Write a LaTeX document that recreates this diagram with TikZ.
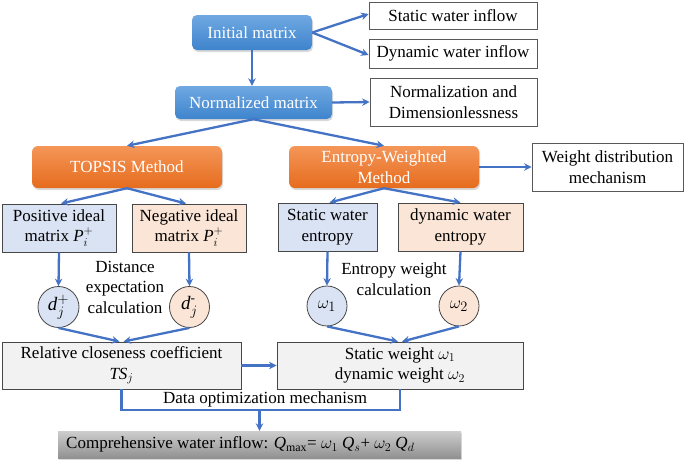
\documentclass[tikz,border=0pt]{standalone}
\usepackage{amsmath}
\usepackage{fontspec}
\setmainfont{Liberation Serif}
\usetikzlibrary{shadows,arrows.meta,shapes.geometric}
\definecolor{arr}{RGB}{68,114,196}
\definecolor{bluetop}{RGB}{112,168,226}
\definecolor{bluebot}{RGB}{62,132,204}
\definecolor{orgtop}{RGB}{244,150,88}
\definecolor{orgbot}{RGB}{230,108,30}
\definecolor{lblue}{RGB}{218,227,243}
\definecolor{lorange}{RGB}{251,229,214}
\definecolor{lgray}{RGB}{242,242,242}
\definecolor{bord}{RGB}{89,89,89}
\definecolor{comptop}{RGB}{205,205,205}
\definecolor{compbot}{RGB}{145,145,145}
\tikzset{
  base/.style={font=\fontsize{17}{20.5}\selectfont, align=center, inner sep=0pt},
  shade/.style={drop shadow={opacity=0.3, shadow xshift=1pt, shadow yshift=-2pt}},
  bluebox/.style={base, rounded corners=5pt, top color=bluetop, bottom color=bluebot, text=white, shade},
  orgbox/.style={base, rounded corners=6pt, top color=orgtop, bottom color=orgbot, text=white, shade},
  whitebox/.style={base, draw=bord, line width=0.8pt, fill=white},
  lbluebox/.style={base, draw=bord!80!black, line width=0.9pt, fill=lblue},
  lorgbox/.style={base, draw=bord!80!black, line width=0.9pt, fill=lorange},
  circbase/.style={base, font=\fontsize{19}{22}\selectfont, ellipse, line width=0.8pt, draw=bord!80!black},
  lbluecirc/.style={circbase, fill=lblue},
  lorgcirc/.style={circbase, fill=lorange},
  graybox/.style={base, draw=bord!80!black, line width=0.9pt, fill=lgray},
  lbl/.style={base},
  conn/.style={draw=arr, line width=2.3pt, -{Stealth[length=7.5pt,width=7.5pt]}},
  plain/.style={draw=arr, line width=2.3pt},
}
\begin{document}
\begin{tikzpicture}[x=1pt,y=-1pt]
\useasboundingbox (0,0) rectangle (685,464);
% top row
\node[bluebox, minimum width=120, minimum height=35] (init) at (252,32.5) {Initial matrix};
\node[whitebox, minimum width=168, minimum height=27] (sin) at (453,15.5) {Static water inflow};
\node[whitebox, minimum width=168, minimum height=29] (din) at (453,53.5) {Dynamic water inflow};
\node[bluebox, minimum width=157, minimum height=33] (norm) at (253.5,102.5) {Normalized matrix};
\node[whitebox, minimum width=167, minimum height=48] (ndl) at (453.5,102) {Normalization and\\Dimensionlessness};
% methods
\node[orgbox, minimum width=190, minimum height=42] (topsis) at (127,167) {TOPSIS Method};
\node[orgbox, minimum width=190, minimum height=42] (ewm) at (384,167) {Entropy-Weighted\\Method};
\node[whitebox, minimum width=151, minimum height=48] (wdm) at (607.5,167) {Weight distribution\\mechanism};
% matrices
\node[lbluebox, minimum width=114, minimum height=48] (pim) at (59,228) {Positive ideal\\matrix \textit{P}$_i^+$};
\node[lorgbox, minimum width=114, minimum height=48] (nim) at (189,228) {Negative ideal\\matrix \textit{P}$_i^+$};
\node[lbluebox, minimum width=99, minimum height=48] (swe) at (327.5,227) {Static water\\entropy};
\node[lorgbox, minimum width=125, minimum height=48] (dwe) at (460.5,227) {dynamic water\\entropy};
% circles
\node[lbluecirc, minimum width=41, minimum height=41] (dp) at (58.5,307) {\textit{d}$_j^+$};
\node[lorgcirc, minimum width=40, minimum height=41] (dm) at (189.5,307) {\textit{d}$_j^{\text{-}}$};
\node[lbluecirc, minimum width=40, minimum height=40] (w1) at (327,306) {$\omega_1$};
\node[lorgcirc, minimum width=40, minimum height=40] (w2) at (459,306) {$\omega_2$};
\node[lbl] (dec) at (125,287) {Distance\\expectation\\calculation};
\node[lbl] (ewc) at (394,279) {Entropy weight\\calculation};
% results
\node[graybox, minimum width=239, minimum height=47] (rcc) at (121.5,365.5) {Relative closeness coefficient\\\textit{TS}$_j$};
\node[graybox, minimum width=246, minimum height=47] (sw) at (400,365.5) {Static weight $\omega_1$\\dynamic weight $\omega_2$};
\node[lbl] (dom) at (265,399) {Data optimization mechanism};
\node[base, minimum width=403, minimum height=27, top color=comptop, bottom color=compbot, shade] (comp) at (259.5,444.5) {};
\node[base, anchor=west] (comptext) at (66,444.5) {Comprehensive water inflow: \textit{Q}$_{\mathrm{max}}$= $\omega_1$ \textit{Q}$_s$+ $\omega_2$ \textit{Q}$_d$};
\coordinate (dl) at (121.5,410);
\coordinate (dr) at (400,410);
% connectors
\draw[conn] (init.east) -- ([yshift=1.5pt]sin.west);
\draw[conn] (init.east) -- ([yshift=-1.5pt]din.west);
\draw[conn] (init.south) -- (norm.north -| init.south);
\draw[conn] (norm.east) -- (ndl.west);
\draw[conn] (norm.south) -- (topsis.north);
\draw[conn] (norm.south) -- (ewm.north);
\draw[conn] (ewm.east) -- (wdm.west);
\draw[conn] (topsis.south) -- ([xshift=2pt]pim.north);
\draw[conn] (topsis.south) -- ([xshift=-3pt]nim.north);
\draw[conn] (ewm.south) -- ([xshift=2pt]swe.north);
\draw[conn] (ewm.south) -- (dwe.north);
\draw[conn] (pim.south) -- (dp.north);
\draw[conn] (nim.south) -- (dm.north);
\draw[conn] (swe.south) -- (w1.north);
\draw[conn] (dwe.south) -- (w2.north);
\draw[conn] (dp.south) -- ([xshift=-2pt]rcc.north);
\draw[conn] (dm.south) -- ([xshift=2pt]rcc.north);
\draw[conn] (w1.south) -- ([xshift=-2pt]sw.north);
\draw[conn] (w2.south) -- ([xshift=2pt]sw.north);
\draw[conn] (rcc.east) -- (sw.west);
\draw[plain] (rcc.south) -- (dl) -- (dr) -- (sw.south);
\draw[conn] (dl -| comp.north) -- (comp.north);
\end{tikzpicture}
\end{document}
